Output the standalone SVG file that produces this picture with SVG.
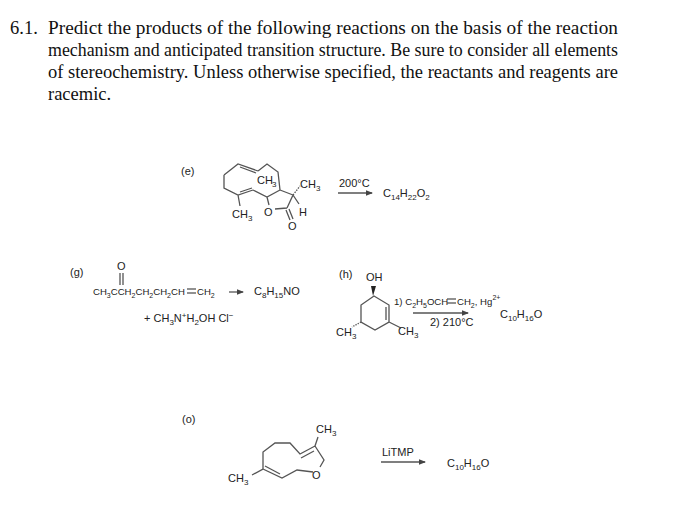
<svg xmlns="http://www.w3.org/2000/svg" width="691" height="511" viewBox="0 0 691 511">
<style>
.h{font-family:"Liberation Serif",serif;font-size:18.5px;fill:#111}
.t{font-family:"Liberation Sans",Arial,sans-serif;font-size:11px;fill:#222}
.m{font-family:"Liberation Sans",Arial,sans-serif;font-size:9.6px;fill:#222}
.s{font-size:8px}
.m .s{font-size:7px}
.b{stroke:#555;stroke-width:1.3;fill:none}
</style>
<defs><marker id="ar" markerWidth="6" markerHeight="6" refX="5" refY="3" orient="auto"><path d="M0,0.8L6,3L0,5.2z" fill="#444"/></marker></defs>
<rect width="691" height="511" fill="#fff"/>
<text class="h" x="10" y="34">6.1.</text>
<text class="h" x="48" y="34" textLength="570" lengthAdjust="spacingAndGlyphs">Predict the products of the following reactions on the basis of the reaction</text>
<text class="h" x="48" y="56" textLength="570" lengthAdjust="spacingAndGlyphs">mechanism and anticipated transition structure. Be sure to consider all elements</text>
<text class="h" x="48" y="78" textLength="570" lengthAdjust="spacingAndGlyphs">of stereochemistry. Unless otherwise specified, the reactants and reagents are</text>
<text class="h" x="48" y="100">racemic.</text>

<g id="e">
<text class="t" x="181" y="175">(e)</text>
<path class="b" d="M224,175 L238,164 L258,171 M240,167 L256,173 M258,171 L267,164 L278,172 L280,190 M224,175 L224,188 L238,195 L253,190 M240,192 L252,188 M253,190 L267,197 L280,190 M238,195 L240,206 M280,190 L293,195 L287,208 M267,197 L269,205 M275,209 L287,208 M286,210 L290,220 M289,209 L293,219 M293,195 L299,204"/>
<path class="b" d="M293,195 L300,186" stroke-dasharray="1.5 1.2"/>
<text class="t" x="257" y="184">CH</text><text class="t s" x="272" y="187">3</text>
<text class="t" x="300" y="188">CH<tspan class="s" dy="3">3</tspan></text>
<text class="t" x="232" y="218">CH<tspan class="s" dy="3">3</tspan></text>
<text class="t" x="264" y="216">O</text>
<text class="t" x="299" y="216">H</text>
<text class="t" x="288" y="230">O</text>
<text class="t" x="339" y="187">200°C</text>
<line class="b" x1="338" y1="193" x2="372" y2="193" marker-end="url(#ar)"/>
<text class="t" x="383" y="197">C<tspan class="s" dy="3">14</tspan><tspan dy="-3">H</tspan><tspan class="s" dy="3">22</tspan><tspan dy="-3">O</tspan><tspan class="s" dy="3">2</tspan></text>
</g>

<g id="g">
<text class="t" x="70" y="276">(g)</text>
<text class="t" x="117" y="270">O</text>
<line class="b" x1="120" y1="273" x2="120" y2="285"/><line class="b" x1="123" y1="273" x2="123" y2="285"/>
<text class="m" x="93" y="295">CH<tspan class="s" dy="3">3</tspan><tspan dy="-3">CCH</tspan><tspan class="s" dy="3">2</tspan><tspan dy="-3">CH</tspan><tspan class="s" dy="3">2</tspan><tspan dy="-3">CH</tspan><tspan class="s" dy="3">2</tspan><tspan dy="-3">CH</tspan></text>
<line class="b" x1="187" y1="289" x2="196" y2="289"/><line class="b" x1="187" y1="293" x2="196" y2="293"/>
<text class="m" x="197" y="295">CH<tspan class="s" dy="3">2</tspan></text>
<line class="b" x1="229" y1="292" x2="243" y2="292" marker-end="url(#ar)"/>
<text class="t" x="254" y="295">C<tspan class="s" dy="3">8</tspan><tspan dy="-3">H</tspan><tspan class="s" dy="3">15</tspan><tspan dy="-3">NO</tspan></text>
<text class="t" x="144" y="322">+  CH<tspan class="s" dy="3">3</tspan><tspan dy="-3">N</tspan><tspan class="s" dy="-4">+</tspan><tspan dy="4">H</tspan><tspan class="s" dy="3">2</tspan><tspan dy="-3">OH Cl</tspan><tspan class="s" dy="-4">−</tspan></text>
</g>

<g id="h">
<text class="t" x="339" y="278">(h)</text>
<text class="t" x="366" y="281">OH</text>
<path d="M373,296 L371,286 L376,286 Z" fill="#222"/>
<path class="b" d="M374,296 L389,305 L389,322 L375,330 L361,322 L361,305 Z M386,307 L386,320 M389,322 L401,328"/>
<path class="b" d="M361,322 L352,327" stroke-dasharray="1.3 1.2"/>
<text class="t" x="336" y="336">CH<tspan class="s" dy="3">3</tspan></text>
<text class="t" x="398" y="335">CH<tspan class="s" dy="3">3</tspan></text>
<text class="m" x="394" y="305">1) C<tspan class="s" dy="3">2</tspan><tspan dy="-3">H</tspan><tspan class="s" dy="3">5</tspan><tspan dy="-3">OCH</tspan></text>
<line class="b" x1="447" y1="299" x2="456" y2="299"/><line class="b" x1="447" y1="303" x2="456" y2="303"/>
<text class="m" x="457" y="305">CH<tspan class="s" dy="3">2</tspan><tspan dy="-3">, Hg</tspan><tspan class="s" dy="-5">2+</tspan></text>
<line class="b" x1="413" y1="313" x2="468" y2="313" marker-end="url(#ar)"/>
<text class="t" x="430" y="326">2) 210°C</text>
<text class="t" x="500" y="318">C<tspan class="s" dy="3">10</tspan><tspan dy="-3">H</tspan><tspan class="s" dy="3">16</tspan><tspan dy="-3">O</tspan></text>
</g>

<g id="o">
<text class="t" x="182" y="423">(o)</text>
<path class="b" d="M252,475 L263,469 L263,452 L275,443 L290,443 L300,454 L315,446 L324,460 L320,467 M301,458 L314,451 M315,446 L318,437 M313,472 L297,470 L282,478 L263,469 M280,474 L265,466"/>
<text class="t" x="316" y="433">CH<tspan class="s" dy="3">3</tspan></text>
<text class="t" x="312" y="479">O</text>
<text class="t" x="228" y="482">CH<tspan class="s" dy="3">3</tspan></text>
<text class="t" x="382" y="456">LiTMP</text>
<line class="b" x1="381" y1="462" x2="425" y2="462" marker-end="url(#ar)"/>
<text class="t" x="447" y="467">C<tspan class="s" dy="3">10</tspan><tspan dy="-3">H</tspan><tspan class="s" dy="3">16</tspan><tspan dy="-3">O</tspan></text>
</g>
</svg>
